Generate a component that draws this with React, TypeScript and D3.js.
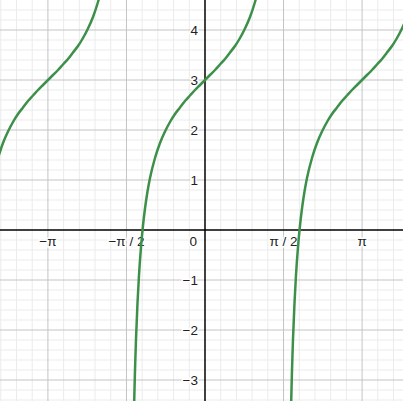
import { useMemo } from "react";
import * as d3 from "d3";

const WIDTH = 403;
const HEIGHT = 401;

// visible window, in graph units
const X_DOMAIN: [number, number] = [-4.1, 3.96];
const Y_DOMAIN: [number, number] = [-3.42, 4.6];

// curve values, one array pair per branch
const leftX = [-4.14, -4.04, -3.94, -3.84, -3.74, -3.64, -3.54, -3.44, -3.34, -3.24, -3.14, -3.04, -2.94, -2.84, -2.74, -2.64, -2.54, -2.44, -2.34, -2.24, -2.14, -2.09];
const leftY = [1.44, 1.74, 1.97, 2.16, 2.32, 2.45, 2.58, 2.69, 2.8, 2.9, 3.0, 3.1, 3.2, 3.31, 3.42, 3.55, 3.68, 3.84, 4.03, 4.26, 4.56, 4.74];

const midX = [-1.42, -1.4, -1.38, -1.35, -1.32, -1.28, -1.24, -1.2, -1.15, -1.1, -1.0, -0.9, -0.8, -0.7, -0.6, -0.5, -0.4, -0.3, -0.2, -0.1, 0, 0.1, 0.2, 0.3, 0.4, 0.5, 0.6, 0.7, 0.8, 0.9, 1.0, 1.05];
const midY = [-3.58, -2.8, -2.18, -1.46, -0.9, -0.34, 0.09, 0.43, 0.77, 1.04, 1.44, 1.74, 1.97, 2.16, 2.32, 2.45, 2.58, 2.69, 2.8, 2.9, 3.0, 3.1, 3.2, 3.31, 3.42, 3.55, 3.68, 3.84, 4.03, 4.26, 4.56, 4.74];

const rightX = [1.72, 1.74, 1.76, 1.79, 1.82, 1.86, 1.9, 1.94, 1.99, 2.04, 2.14, 2.24, 2.34, 2.44, 2.54, 2.64, 2.74, 2.84, 2.94, 3.04, 3.14, 3.24, 3.34, 3.44, 3.54, 3.64, 3.74, 3.84, 3.94, 4.04];
const rightY = [-3.58, -2.8, -2.18, -1.46, -0.9, -0.34, 0.09, 0.43, 0.77, 1.04, 1.44, 1.74, 1.97, 2.16, 2.32, 2.45, 2.58, 2.69, 2.8, 2.9, 3.0, 3.1, 3.2, 3.31, 3.42, 3.55, 3.68, 3.84, 4.03, 4.26];

// x ticks are in steps of pi/2
const xTickSteps = [-2, -1, 0, 1, 2];
const xTickLabels = ["−π", "−π / 2", "0", "π / 2", "π"];
const yTicks = [-3, -2, -1, 1, 2, 3, 4];
const yTickLabels = ["−3", "−2", "−1", "1", "2", "3", "4"];

const CURVE_COLOR = "#3d9049";
const FONT = "Arial, 'Liberation Sans', sans-serif";

const App = () => {
  const xScale = useMemo(() => d3.scaleLinear().domain(X_DOMAIN).range([0, WIDTH]), []);
  const yScale = useMemo(() => d3.scaleLinear().domain(Y_DOMAIN).range([HEIGHT, 0]), []);

  const line = d3
    .line<[number, number]>()
    .x((d) => xScale(d[0]))
    .y((d) => yScale(d[1]))
    .curve(d3.curveMonotoneX);

  const branches = [
    d3.zip(leftX, leftY) as [number, number][],
    d3.zip(midX, midY) as [number, number][],
    d3.zip(rightX, rightY) as [number, number][],
  ];

  // grid: minor every pi/10 on x, 0.2 on y
  const step = Math.PI / 10;
  const vLines = d3.range(Math.ceil(X_DOMAIN[0] / step), Math.floor(X_DOMAIN[1] / step) + 1);
  const hLines = d3.range(Math.ceil(Y_DOMAIN[0] / 0.2), Math.floor(Y_DOMAIN[1] / 0.2) + 1);

  const x0 = xScale(0);
  const y0 = yScale(0);

  return (
    <svg
      width={WIDTH}
      height={HEIGHT}
      style={{ position: "absolute", left: 0, top: 0, background: "#fff" }}
    >
      <defs>
        <clipPath id="plot">
          <rect width={WIDTH} height={HEIGHT} />
        </clipPath>
      </defs>
      <rect width={WIDTH} height={HEIGHT} fill="#fff" />
      <g clipPath="url(#plot)">
        {vLines.filter((i) => i % 5 !== 0).map((i) => (
          <line key={"vm" + i} x1={xScale(i * step)} x2={xScale(i * step)} y1={0} y2={HEIGHT} stroke="#ebebeb" strokeWidth={1} />
        ))}
        {hLines.filter((i) => i % 5 !== 0).map((i) => (
          <line key={"hm" + i} x1={0} x2={WIDTH} y1={yScale(i * 0.2)} y2={yScale(i * 0.2)} stroke="#ebebeb" strokeWidth={1} />
        ))}
        {vLines.filter((i) => i % 5 === 0 && i !== 0).map((i) => (
          <line key={"vM" + i} x1={xScale(i * step)} x2={xScale(i * step)} y1={0} y2={HEIGHT} stroke="#c4c4c4" strokeWidth={1} />
        ))}
        {hLines.filter((i) => i % 5 === 0 && i !== 0).map((i) => (
          <line key={"hM" + i} x1={0} x2={WIDTH} y1={yScale(i * 0.2)} y2={yScale(i * 0.2)} stroke="#c4c4c4" strokeWidth={1} />
        ))}

        {/* axes */}
        <line x1={0} x2={WIDTH} y1={y0} y2={y0} stroke="#000" strokeWidth={1.5} />
        <line x1={x0} x2={x0} y1={0} y2={HEIGHT} stroke="#000" strokeWidth={1.5} />

        {/* tick labels with white halo */}
        {xTickSteps.map((s, i) => (
          <text
            key={"xt" + i}
            x={s === 0 ? x0 - 8 : xScale((s * Math.PI) / 2)}
            y={y0 + 16}
            textAnchor={s === 0 ? "end" : "middle"}
            fontFamily={FONT}
            fontSize={13.5}
            fill="#222"
            stroke="#fff"
            strokeWidth={3}
            paintOrder="stroke"
          >
            {xTickLabels[i]}
          </text>
        ))}
        {yTicks.map((v, i) => (
          <text
            key={"yt" + i}
            x={x0 - 7}
            y={yScale(v) + 5}
            textAnchor="end"
            fontFamily={FONT}
            fontSize={13.5}
            fill="#222"
            stroke="#fff"
            strokeWidth={3}
            paintOrder="stroke"
          >
            {yTickLabels[i]}
          </text>
        ))}

        {branches.map((b, i) => (
          <path key={"br" + i} d={line(b) ?? ""} fill="none" stroke={CURVE_COLOR} strokeWidth={2.5} strokeLinecap="round" />
        ))}
      </g>
    </svg>
  );
};

export default App;
